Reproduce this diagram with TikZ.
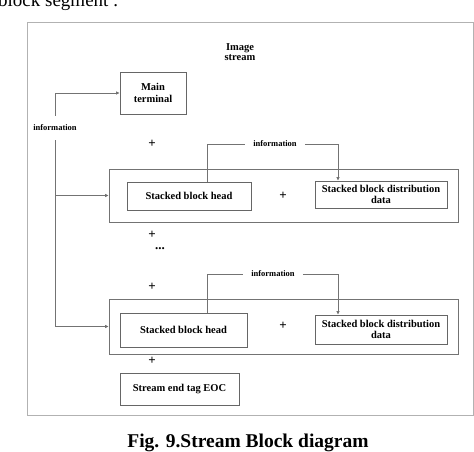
\documentclass[tikz,border=0pt]{standalone}
\usepackage{fontspec}
\setmainfont{Liberation Serif}
\usetikzlibrary{arrows.meta}
\begin{document}
\begin{tikzpicture}[x=1pt,y=-1pt,
  box/.style={draw=black!60,line width=0.7pt,inner sep=0pt,font=\bfseries\fontsize{10.5}{11.5}\selectfont,align=center},
  frame/.style={draw=black!55,line width=0.7pt,inner sep=0pt},
  lbl/.style={font=\bfseries\fontsize{8.5}{9.5}\selectfont,inner sep=0pt},
  plus/.style={font=\bfseries\fontsize{13}{13}\selectfont,inner sep=0pt},
  conn/.style={draw=black!55,line width=0.7pt},
  arr/.style={conn,-{Latex[length=3.5pt,width=3.5pt,fill=black!80]}}]
\useasboundingbox (0,0) rectangle (474,452);
\node[anchor=base west,inner sep=0pt,font=\fontsize{19}{19}\selectfont] (top) at (-2,7) {block segment :};
\draw[draw=black!30,line width=0.8pt] (27,22) rectangle (473.5,415);
\node[box,draw=none] (img) at (240,52) {Image\\[-1pt]stream};
\node[box,minimum width=66,minimum height=42] (main) at (153,93) {Main\\terminal};
\node[frame,minimum width=349,minimum height=53] (outer1) at (283.5,195.5) {};
\node[box,minimum width=124,minimum height=28] (head1) at (189,196) {Stacked block head};
\node[box,minimum width=132,minimum height=27] (dist1) at (381,194.5) {Stacked block distribution\\data};
\node[plus] (p1) at (283,196) {+};
\node[frame,minimum width=349,minimum height=55] (outer2) at (283.5,326.5) {};
\node[box,minimum width=127,minimum height=34] (head2) at (183.5,330) {Stacked block head};
\node[box,minimum width=132,minimum height=29] (dist2) at (381,329.5) {Stacked block distribution\\data};
\node[plus] (p2) at (283,326) {+};
\node[box,minimum width=119,minimum height=32] (eoc) at (179.5,389) {Stream end tag EOC};
\node[plus] (pa) at (152,144) {+};
\node[plus] (pb) at (152,235) {+};
\node[inner sep=0pt,font=\bfseries\fontsize{13}{13}\selectfont] (dots) at (160,249) {...};
\node[plus] (pc) at (152,287) {+};
\node[plus] (pd) at (152,361) {+};
\node[lbl,inner ysep=9pt,inner xsep=1pt] (infoL) at (55,128) {information};
\node[lbl,inner xsep=8pt,inner ysep=2pt] (info1) at (275,144) {information};
\node[lbl,inner xsep=8pt,inner ysep=2pt] (info2) at (273,274) {information};
\draw[arr] (infoL.north) |- (main.west);
\draw[arr] (infoL.south) |- (outer1.west);
\draw[arr] (infoL.south) |- (outer2.west);
\draw[conn] ([xshift=18pt]head1.north) |- (info1.west);
\draw[arr] (info1.east) -| ([xshift=-43pt]dist1.north);
\draw[conn] ([xshift=23.5pt]head2.north) |- (info2.west);
\draw[arr] (info2.east) -| ([xshift=-43pt]dist2.north);
\node[anchor=base,inner sep=0pt,font=\bfseries\fontsize{19.5}{20}\selectfont] (cap) at (248,447) {Fig. 9.Stream Block diagram};
\end{tikzpicture}
\end{document}
